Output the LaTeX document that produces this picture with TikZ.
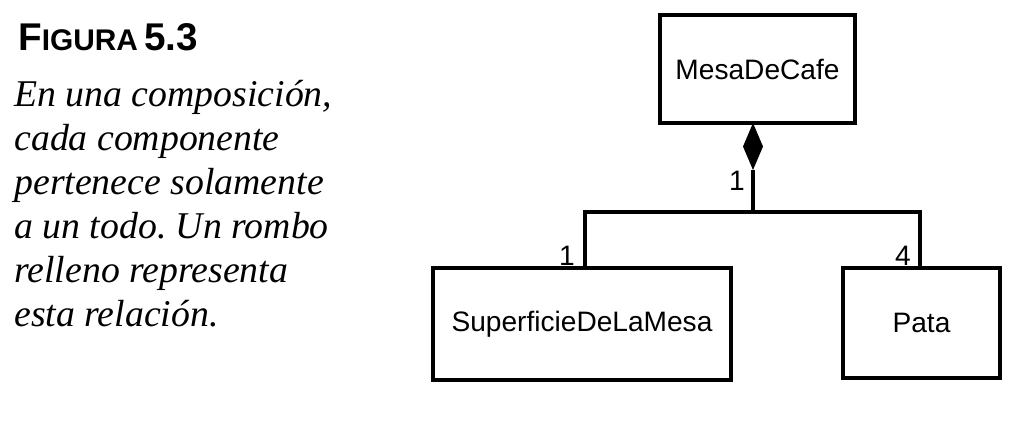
\documentclass[tikz,border=0pt]{standalone}
\usepackage{fontspec}
\setmainfont{Liberation Serif}
\setsansfont{Liberation Sans}
\usetikzlibrary{arrows.meta}
\tikzset{cls/.style={draw,line width=2pt,font=\sffamily\fontsize{16}{18}\selectfont,inner sep=0pt},
 ln/.style={line width=2pt},
 mult/.style={font=\sffamily\fontsize{16}{18}\selectfont}}
\begin{document}
\frenchspacing
\begin{tikzpicture}[x=0.02cm,y=-0.02cm]
\useasboundingbox (0,0) rectangle (1035,425);
\node[cls,minimum width=195*0.02cm,minimum height=108*0.02cm] (mesa) at (757.5,69) {MesaDeCafe};
\node[cls,minimum width=298*0.02cm,minimum height=112*0.02cm] (sup) at (582,324) {SuperficieDeLaMesa};
\node[cls,minimum width=157*0.02cm,minimum height=110*0.02cm] (pata) at (921.5,323) {Pata};
\coordinate (j) at (753,212);
\coordinate (dt) at (753,123);
\coordinate (db) at (753,170);
\coordinate (dl) at (743,146.5);
\coordinate (dr) at (763,146.5);
\fill (dt) -- (dr) -- (db) -- (dl) -- cycle;
\draw[ln] (db) -- (j);
\draw[ln] (j) -- (585,212) -- (sup.north -| 585,0);
\draw[ln] (j) -- (920,212) -- (pata.north -| 920,0);
\node[mult] (m1) at (737,181) {1};
\node[mult] (m2) at (567,256) {1};
\node[mult] (m3) at (903,256) {4};
\node[anchor=west,font=\sffamily\bfseries] (fig) at (12,37) {{\fontsize{22}{24}\selectfont F}{\fontsize{17}{18}\selectfont IGURA}\hspace{0.35em}{\fontsize{22}{24}\selectfont 5.3}};
\node[anchor=north west,align=left,inner sep=0pt,font=\itshape\fontsize{21.5}{25}\selectfont] (cap) at (14,80) {En una composición,\\cada componente\\pertenece solamente\\a un todo. Un rombo\\relleno representa\\esta relación.};
\end{tikzpicture}
\end{document}
